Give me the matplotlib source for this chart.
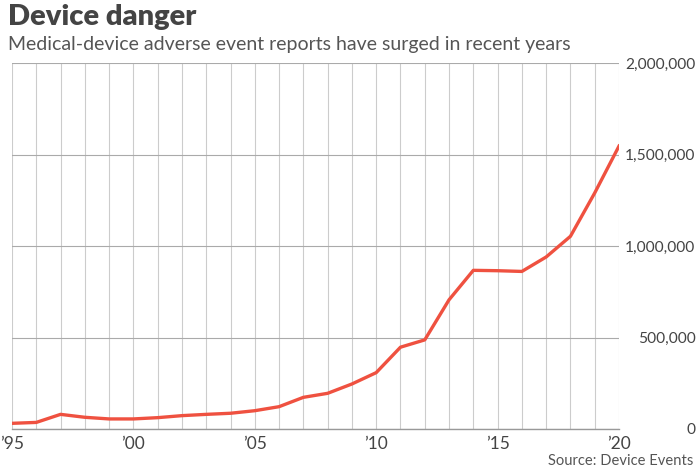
import matplotlib
matplotlib.use('Agg')
from matplotlib import pyplot as plt
from matplotlib.ticker import FuncFormatter

years = list(range(1995, 2021))
reports = [31000, 36000, 80000, 64000, 55000, 55000, 62000, 73000, 80000, 86000,
           100000, 122000, 173000, 195000, 246000, 308000, 447000, 487000, 706000, 867000,
           865000, 861000, 940000, 1053000, 1290000, 1546000]
xtick_years = [1995, 2000, 2005, 2010, 2015, 2020]
xtick_labels = ['\u201995', '\u201900', '\u201905', '\u201910', '\u201915', '\u201920']
yticks = [0, 500000, 1000000, 1500000, 2000000]

plt.rcParams['font.family'] = ['Lato', 'DejaVu Sans']

fig = plt.figure(figsize=(7, 4.71), dpi=100)
ax = fig.add_axes([12 / 700, 42 / 471, 607 / 700, 366 / 471])

ax.plot(years, reports, color='#ef5140', lw=2.4, solid_joinstyle='round', zorder=3)

ax.set_xlim(1995, 2020)
ax.set_ylim(0, 2000000)
ax.set_xticks(years, minor=True)
ax.set_xticks(xtick_years)
ax.set_xticklabels(xtick_labels)
ax.set_yticks(yticks)
ax.yaxis.set_major_formatter(FuncFormatter(lambda v, p: f'{int(v):,}'))
ax.yaxis.tick_right()

ax.grid(axis='x', which='both', color='#cccccc', lw=0.8)
ax.grid(axis='y', which='major', color='#aaaaaa', lw=0.8)
for s in ['top', 'left', 'right']:
    ax.spines[s].set_visible(False)
ax.spines['bottom'].set_color('#999999')
ax.spines['bottom'].set_linewidth(1)

ax.tick_params(axis='x', which='both', length=0, pad=5, labelsize=12.5, labelcolor='#444444')
ax.tick_params(axis='y', length=0, pad=55, labelsize=11.2, labelcolor='#444444')
for lbl in ax.get_yticklabels():
    lbl.set_horizontalalignment('right')

fig.text(8 / 700, 1 - 4 / 471, 'Device danger', fontsize=21, fontweight='heavy',
         color='#444444', va='top', ha='left')
fig.text(8 / 700, 1 - 36 / 471, 'Medical-device adverse event reports have surged in recent years',
         fontsize=14, color='#555555', va='top', ha='left')
fig.text(693 / 700, 1 - 468 / 471, 'Source: Device Events', fontsize=10.6,
         color='#555555', va='bottom', ha='right')

fig.savefig('out.png', dpi=100)
